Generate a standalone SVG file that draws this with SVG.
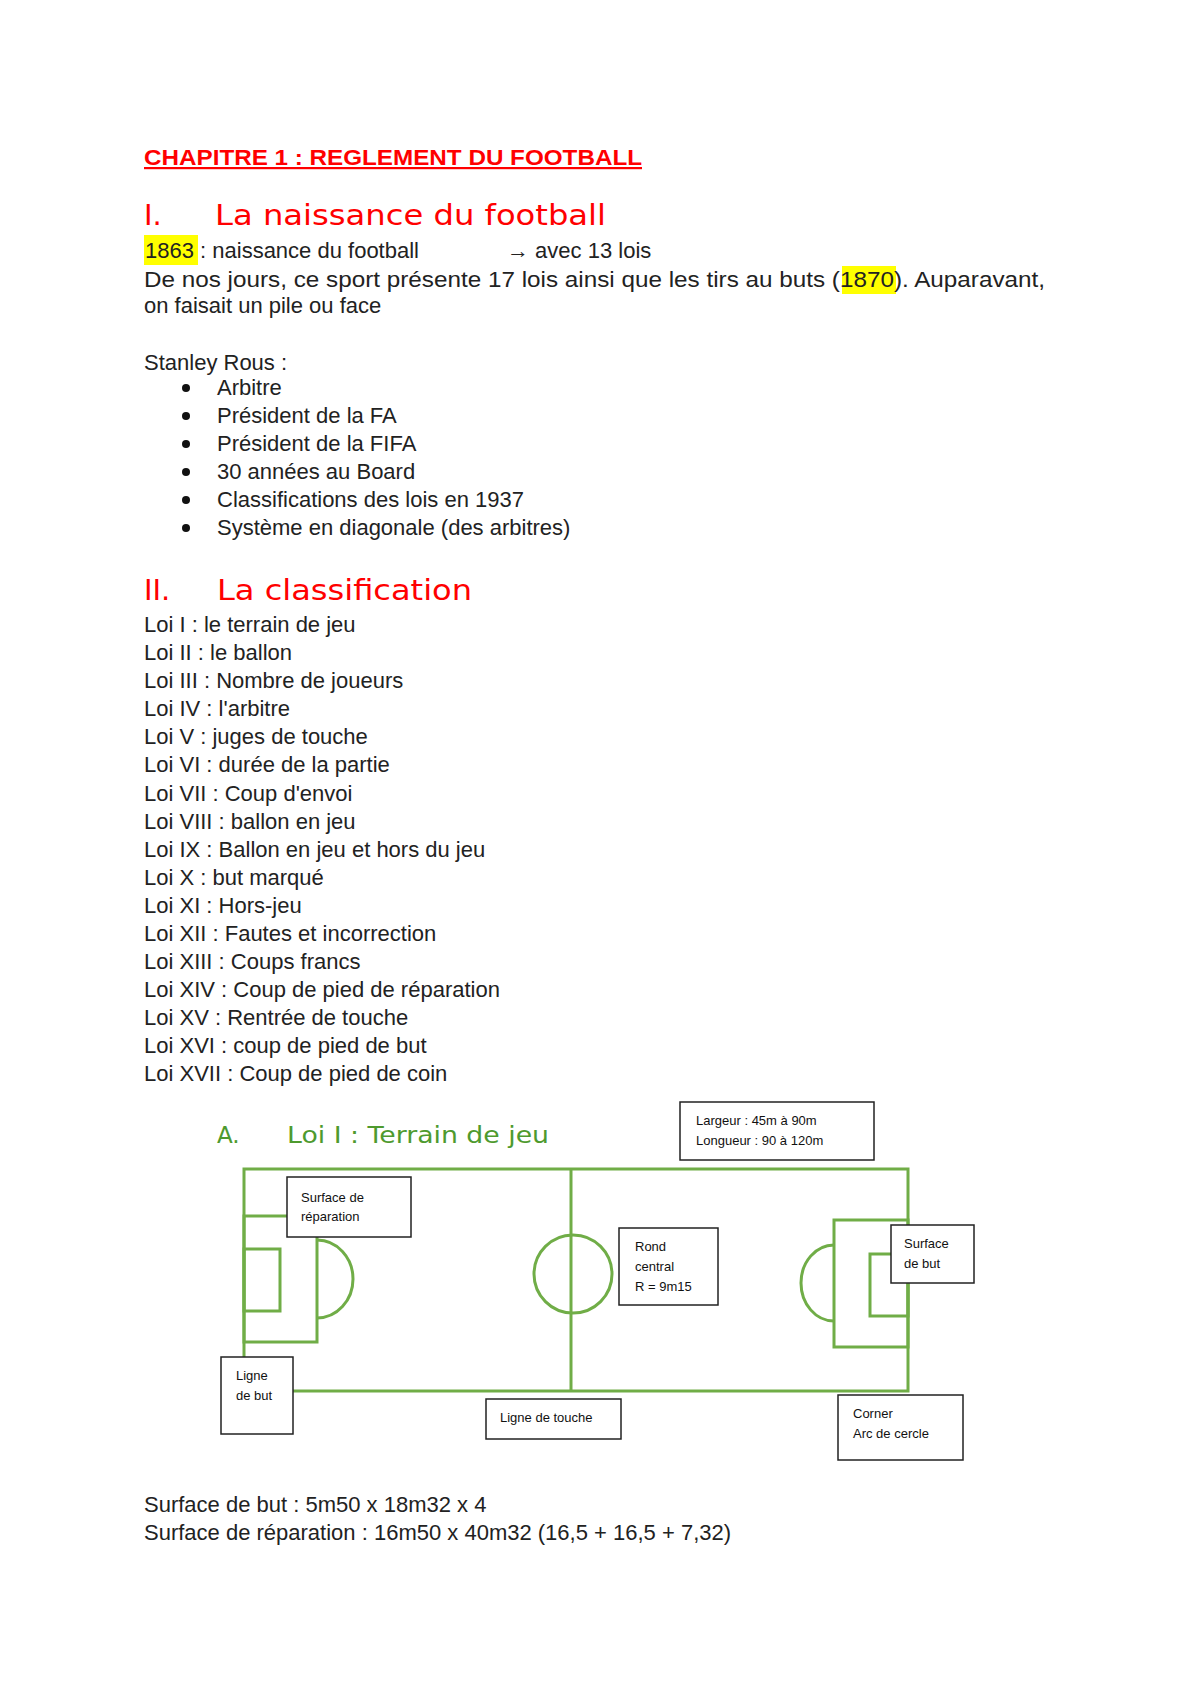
<svg xmlns="http://www.w3.org/2000/svg" width="1200" height="1696" viewBox="0 0 1200 1696">
<style>
.b{font-family:"Liberation Sans",Arial,sans-serif;font-size:22px;fill:#222}
.h{font-family:"DejaVu Sans",Verdana,sans-serif;font-size:29px;fill:#ff0000}
.g{font-family:"DejaVu Sans",Verdana,sans-serif;font-size:23px;fill:#4e9a2e}
.s{font-family:"Liberation Sans",Arial,sans-serif;font-size:13px;fill:#111}
.box{fill:#fff;stroke:#222;stroke-width:1.5}
.p{fill:none;stroke:#70ad47;stroke-width:3}
</style>
<rect width="1200" height="1696" fill="#fff"/>
<g id="title"><text x="144" y="165" font-family="Liberation Sans,Arial,sans-serif" font-size="22" font-weight="bold" fill="#ff0000" text-decoration="underline" textLength="498" lengthAdjust="spacingAndGlyphs">CHAPITRE 1 : REGLEMENT DU FOOTBALL</text></g>
<g id="section1">
<text class="h" x="144" y="225">I.</text>
<text class="h" x="215" y="225" textLength="391" lengthAdjust="spacingAndGlyphs">La naissance du football</text>
<rect x="144" y="235" width="54" height="30" fill="#ffff00"/>
<rect x="842" y="266" width="54" height="28" fill="#ffff00"/>
<text class="b" x="145" y="258">1863 : naissance du football</text>
<text class="b" x="507" y="258">→ avec 13 lois</text>
<text class="b" x="144" y="287" textLength="901" lengthAdjust="spacingAndGlyphs">De nos jours, ce sport présente 17 lois ainsi que les tirs au buts (1870). Auparavant,</text>
<text class="b" x="144" y="313">on faisait un pile ou face</text>
<text class="b" x="144" y="370">Stanley Rous :</text>
<g fill="#111"><circle cx="186" cy="388" r="4"/><circle cx="186" cy="416" r="4"/><circle cx="186" cy="444" r="4"/><circle cx="186" cy="472" r="4"/><circle cx="186" cy="500" r="4"/><circle cx="186" cy="528" r="4"/></g>
<text class="b" x="217" y="395">Arbitre</text>
<text class="b" x="217" y="423">Président de la FA</text>
<text class="b" x="217" y="451">Président de la FIFA</text>
<text class="b" x="217" y="479">30 années au Board</text>
<text class="b" x="217" y="507">Classifications des lois en 1937</text>
<text class="b" x="217" y="535">Système en diagonale (des arbitres)</text>
</g>
<g id="section2">
<text class="h" x="144" y="600">II.</text>
<text class="h" x="217" y="600" textLength="255" lengthAdjust="spacingAndGlyphs">La classification</text>
<text class="b" x="144" y="632">Loi I : le terrain de jeu</text>
<text class="b" x="144" y="660">Loi II : le ballon</text>
<text class="b" x="144" y="688">Loi III : Nombre de joueurs</text>
<text class="b" x="144" y="716">Loi IV : l'arbitre</text>
<text class="b" x="144" y="744">Loi V : juges de touche</text>
<text class="b" x="144" y="772">Loi VI : durée de la partie</text>
<text class="b" x="144" y="801">Loi VII : Coup d'envoi</text>
<text class="b" x="144" y="829">Loi VIII : ballon en jeu</text>
<text class="b" x="144" y="857">Loi IX : Ballon en jeu et hors du jeu</text>
<text class="b" x="144" y="885">Loi X : but marqué</text>
<text class="b" x="144" y="913">Loi XI : Hors-jeu</text>
<text class="b" x="144" y="941">Loi XII : Fautes et incorrection</text>
<text class="b" x="144" y="969">Loi XIII : Coups francs</text>
<text class="b" x="144" y="997">Loi XIV : Coup de pied de réparation</text>
<text class="b" x="144" y="1025">Loi XV : Rentrée de touche</text>
<text class="b" x="144" y="1053">Loi XVI : coup de pied de but</text>
<text class="b" x="144" y="1081">Loi XVII : Coup de pied de coin</text>
</g>
<g id="headingA">
<text class="g" x="217" y="1143">A.</text>
<text class="g" x="287" y="1143" textLength="262" lengthAdjust="spacingAndGlyphs">Loi I : Terrain de jeu</text>
</g>
<g id="pitch">
<rect class="p" x="244" y="1169" width="664" height="222"/>
<line class="p" x1="571" y1="1169" x2="571" y2="1391"/>
<circle class="p" cx="573" cy="1274" r="39"/>
<rect class="p" x="244" y="1216" width="73" height="126"/>
<rect class="p" x="244" y="1249" width="36" height="62"/>
<path class="p" d="M317 1240 A36 39 0 0 1 317 1318"/>
<rect class="p" x="834" y="1220" width="74" height="127"/>
<rect class="p" x="870" y="1254" width="38" height="62"/>
<path class="p" d="M834 1245 A33 38 0 0 0 834 1321"/>
</g>
<g id="n-largeur"><rect class="box" x="680" y="1102" width="194" height="58"/><text class="s" x="696" y="1125">Largeur : 45m à 90m</text><text class="s" x="696" y="1145">Longueur : 90 à 120m</text></g>
<g id="n-reparation"><rect class="box" x="287" y="1177" width="124" height="60"/><text class="s" x="301" y="1202">Surface de</text><text class="s" x="301" y="1221">réparation</text></g>
<g id="n-rond"><rect class="box" x="619" y="1228" width="99" height="77"/><text class="s" x="635" y="1251">Rond</text><text class="s" x="635" y="1271">central</text><text class="s" x="635" y="1291">R = 9m15</text></g>
<g id="n-but"><rect class="box" x="891" y="1225" width="83" height="58"/><text class="s" x="904" y="1248">Surface</text><text class="s" x="904" y="1268">de but</text></g>
<g id="n-lignebut"><rect class="box" x="221" y="1357" width="72" height="77"/><text class="s" x="236" y="1380">Ligne</text><text class="s" x="236" y="1400">de but</text></g>
<g id="n-touche"><rect class="box" x="486" y="1399" width="135" height="40"/><text class="s" x="500" y="1422">Ligne de touche</text></g>
<g id="n-corner"><rect class="box" x="838" y="1395" width="125" height="65"/><text class="s" x="853" y="1418">Corner</text><text class="s" x="853" y="1438">Arc de cercle</text></g>
<g id="footer">
<text class="b" x="144" y="1512">Surface de but : 5m50 x 18m32 x 4</text>
<text class="b" x="144" y="1540">Surface de réparation : 16m50 x 40m32 (16,5 + 16,5 + 7,32)</text>
</g>
<g id="connectors"/>
</svg>
